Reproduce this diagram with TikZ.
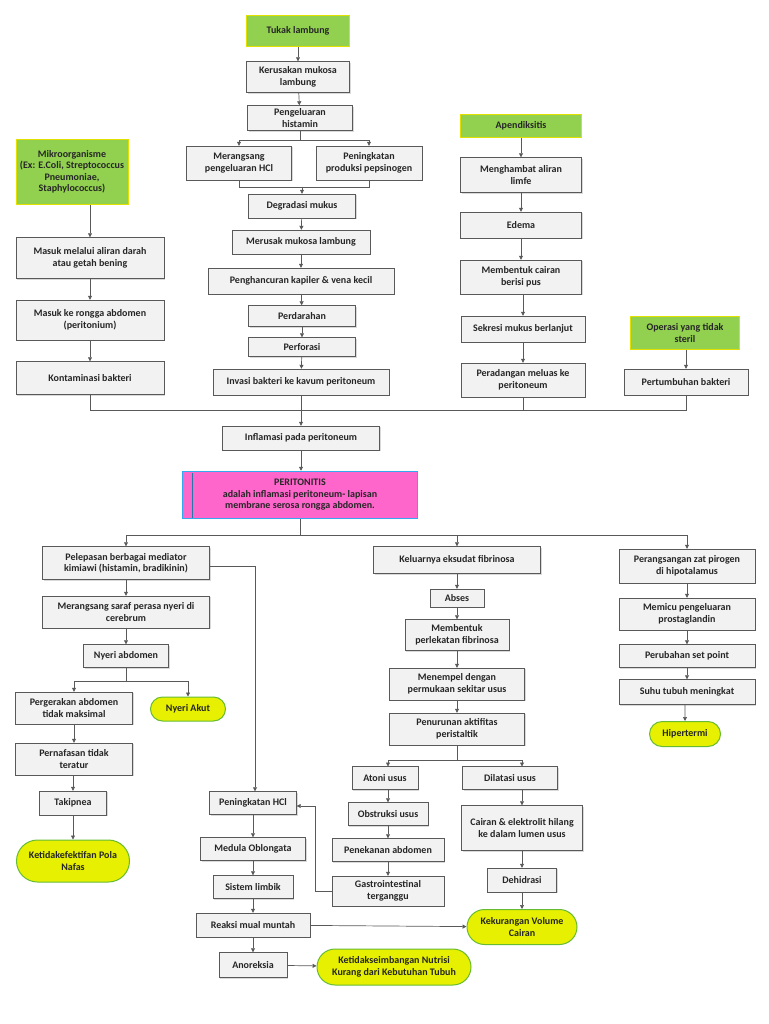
\documentclass[tikz,border=0pt]{standalone}
\usepackage{fontspec}
\setmainfont{Carlito}
\usetikzlibrary{arrows.meta,shadows,shapes.misc}
\definecolor{boxfill}{HTML}{F2F2F2}
\definecolor{boxline}{HTML}{595959}
\definecolor{grn}{HTML}{92D050}
\definecolor{grnb}{HTML}{E2E000}
\definecolor{ylw}{HTML}{E6F000}
\definecolor{ylwb}{HTML}{66BB33}
\definecolor{pnk}{HTML}{FF66CC}
\definecolor{blu}{HTML}{33AAEE}
\definecolor{txt}{HTML}{262626}
\tikzset{
 base/.style={align=center,inner sep=1pt,text=txt,font=\bfseries\fontsize{10}{11.5}\selectfont},
 box/.style={base,draw=boxline,fill=boxfill,drop shadow={shadow xshift=1.2pt,shadow yshift=-1.2pt,opacity=0.3}},
 gbox/.style={base,draw=grnb,line width=1pt,fill=grn},
 ybox/.style={base,draw=ylwb,line width=1pt,fill=ylw,rounded rectangle},
 ar/.style={-{Triangle[length=4pt,width=4pt]},draw=boxline,line width=0.7pt},
 ln/.style={draw=boxline,line width=0.7pt}
}
\newcommand{\bx}[7]{\node[#1,minimum width=#5pt,minimum height=#6pt] (#2) at (#3,#4) {#7};}
\begin{document}
\begin{tikzpicture}[x=1pt,y=-1pt]
\useasboundingbox (0,0) rectangle (768,1024);
% top column
\bx{gbox}{tukak}{298}{31}{103}{31}{Tukak lambung}
\bx{box}{keru}{298}{77}{103}{31}{Kerusakan mukosa\\lambung}
\bx{box}{peng}{300}{118}{105}{25}{Pengeluaran\\histamin}
\bx{box}{hcl}{239}{163}{105}{34}{Merangsang\\pengeluaran HCl}
\bx{box}{peps}{369}{163}{106}{34}{Peningkatan\\produksi pepsinogen}
\bx{box}{degr}{302}{206}{107}{24}{Degradasi mukus}
\bx{box}{meru}{301}{242}{138}{24}{Merusak mukosa lambung}
\bx{box}{kapi}{301}{281}{186}{26}{Penghancuran kapiler \& vena kecil}
\bx{box}{perd}{302}{316}{107}{21}{Perdarahan}
\bx{box}{perf}{302}{347}{107}{19}{Perforasi}
\bx{box}{inva}{301}{382}{176}{26}{Invasi bakteri ke kavum peritoneum}
% left column
\bx{gbox}{mikro}{72}{172}{112}{65}{Mikroorganisme\\(Ex: E.Coli, Streptococcus\\Pneumoniae,\\Staphylococcus)}
\bx{box}{masuk1}{90}{258}{148}{41}{Masuk melalui aliran darah\\atau getah bening}
\bx{box}{masuk2}{90}{320}{148}{40}{Masuk ke rongga abdomen\\(peritonium)}
\bx{box}{konta}{90}{378}{148}{33}{Kontaminasi bakteri}
% right column
\bx{gbox}{apen}{521}{126}{121}{23}{Apendiksitis}
\bx{box}{limfe}{521}{175}{121}{35}{Menghambat aliran\\limfe}
\bx{box}{edema}{521}{225}{121}{26}{Edema}
\bx{box}{pus}{521}{277}{121}{34}{Membentuk cairan\\berisi pus}
\bx{box}{sekr}{523}{329}{124}{26}{Sekresi mukus berlanjut}
\bx{box}{pera}{523}{380}{124}{34}{Peradangan meluas ke\\peritoneum}
\bx{gbox}{oper}{685}{333}{109}{33}{Operasi yang tidak\\steril}
\bx{box}{pert}{686}{382}{124}{26}{Pertumbuhan bakteri}
% center
\bx{box}{infl}{301}{438}{157}{24}{Inflamasi pada peritoneum}
\node[base,draw=blu,line width=1.5pt,fill=pnk,minimum width=235pt,minimum height=47pt] (peri) at (300,495) {PERITONITIS\\adalah inflamasi peritoneum- lapisan\\membrane serosa rongga abdomen.};
\draw[blu!70!black,line width=0.8pt] (192,472.5) -- (192,517.5);
% lower left
\bx{box}{pele}{126}{563}{167}{33}{Pelepasan berbagai mediator\\kimiawi (histamin, bradikinin)}
\bx{box}{mers}{126}{612}{167}{32}{Merangsang saraf perasa nyeri di\\cerebrum}
\bx{box}{nyab}{126}{656}{85}{23}{Nyeri abdomen}
\bx{box}{perg}{74}{708}{117}{32}{Pergerakan abdomen\\tidak maksimal}
\bx{ybox}{nyak}{188}{709}{77}{24}{Nyeri Akut}
\bx{box}{pern}{74}{759}{117}{32}{Pernafasan tidak\\teratur}
\bx{box}{taki}{73}{803}{67}{24}{Takipnea}
\bx{ybox}{ketpola}{73}{861}{115}{42}{Ketidakefektifan Pola\\Nafas}
\bx{box}{phcl}{253}{803}{87}{23}{Peningkatan HCl}
\bx{box}{medu}{253}{849}{105}{23}{Medula Oblongata}
\bx{box}{siste}{253}{887}{80}{23}{Sistem limbik}
\bx{box}{reak}{253}{925}{114}{24}{Reaksi mual muntah}
\bx{box}{anor}{253}{965}{68}{25}{Anoreksia}
\bx{ybox}{nutri}{394}{967}{156}{36}{Ketidakseimbangan Nutrisi\\Kurang dari Kebutuhan Tubuh}
\bx{ybox}{kvol}{522}{927}{112}{35}{Kekurangan Volume\\Cairan}
% lower middle
\bx{box}{kelu}{457}{560}{167}{27}{Keluarnya eksudat fibrinosa}
\bx{box}{abses}{457}{598}{54}{18}{Abses}
\bx{box}{perl}{457}{635}{104}{31}{Membentuk\\perlekatan fibrinosa}
\bx{box}{mene}{457}{684}{135}{32}{Menempel dengan\\permukaan sekitar usus}
\bx{box}{penu}{457}{729}{135}{32}{Penurunan aktifitas\\peristaltik}
\bx{box}{atoni}{385}{778}{66}{23}{Atoni usus}
\bx{box}{obst}{388}{814}{80}{23}{Obstruksi usus}
\bx{box}{pene}{388}{850}{112}{23}{Penekanan abdomen}
\bx{box}{gast}{388}{891}{112}{30}{Gastrointestinal\\terganggu}
\bx{box}{dila}{510}{778}{95}{23}{Dilatasi usus}
\bx{box}{cair}{522}{828}{121}{45}{Cairan \& elektrolit hilang\\ke dalam lumen usus}
\bx{box}{dehi}{522}{880}{69}{24}{Dehidrasi}
% lower right
\bx{box}{pir}{687}{566}{136}{34}{Perangsangan zat pirogen\\di hipotalamus}
\bx{box}{pros}{687}{614}{136}{32}{Memicu pengeluaran\\prostaglandin}
\bx{box}{setp}{687}{656}{136}{23}{Perubahan set point}
\bx{box}{suhu}{687}{692}{136}{25}{Suhu tubuh meningkat}
\bx{ybox}{hipe}{685}{734}{73}{25}{Hipertermi}
% connectors top
\draw[ar] (tukak) -- (keru);
\draw[ar] (keru) -- (peng);
\coordinate (s1) at (300,140);
\draw[ln] (peng) -- (s1);
\draw[ar] (s1) -| (hcl);
\draw[ar] (s1) -| (peps);
\coordinate (m1) at (302,187);
\draw[ln] (hcl) |- (m1);
\draw[ln] (peps) |- (m1);
\draw[ar] (m1) -- (degr);
\draw[ar] (degr) -- (meru);
\draw[ar] (meru) -- (kapi);
\draw[ar] (kapi) -- (perd);
\draw[ar] (perd) -- (perf);
\draw[ar] (perf) -- (inva);
\draw[ar] (mikro.south -| masuk1) -- (masuk1);
\draw[ar] (masuk1) -- (masuk2);
\draw[ar] (masuk2) -- (konta);
\draw[ar] (apen) -- (limfe);
\draw[ar] (limfe) -- (edema);
\draw[ar] (edema) -- (pus);
\draw[ar] (pus.south -| sekr) -- (sekr);
\draw[ar] (sekr) -- (pera);
\draw[ar] (oper.south -| pert) -- (pert);
\coordinate (j1) at (301,410);
\draw[ln] (konta.south) |- (j1);
\draw[ln] (pert.south) |- (j1);
\draw[ln] (pera.south) -- (pera.south |- j1);
\draw[ln] (inva) -- (j1);
\draw[ar] (j1) -- (infl);
\draw[ar] (infl) -- (peri.north -| infl);
\coordinate (j2) at (300,535);
\draw[ln] (peri) -- (j2);
\draw[ar] (j2) -| (pele);
\draw[ar] (j2) -| (kelu);
\draw[ar] (j2) -| (pir);
% lower left
\draw[ar] (pele) -- (mers);
\draw[ar] (mers) -- (nyab);
\coordinate (j3) at (126,681);
\draw[ln] (nyab) -- (j3);
\draw[ar] (j3) -| (perg);
\draw[ar] (j3) -| (nyak);
\draw[ar] (perg.south -| pern) -- (pern);
\draw[ar] (pern.south -| taki) -- (taki);
\draw[ar] (taki) -- (ketpola);
\coordinate (c1) at (255,566);
\draw[ar] (pele.east |- c1) -- (c1) -- (c1 |- phcl.north);
\draw[ar] (phcl) -- (medu);
\draw[ar] (medu) -- (siste);
\draw[ar] (siste) -- (reak);
\draw[ar] (reak) -- (anor);
\draw[ar] (reak) -- (kvol);
\draw[ar] (anor) -- (nutri);
\coordinate (c2) at (315,806);
\draw[ar] (gast.west) -| (c2) -- (phcl.east |- c2);
% lower middle
\draw[ar] (kelu) -- (abses);
\draw[ar] (abses) -- (perl);
\draw[ar] (perl) -- (mene);
\draw[ar] (mene) -- (penu);
\coordinate (j4) at (457,760);
\draw[ln] (penu) -- (j4);
\draw[ar] (j4) -| (388,766.5);
\draw[ar] (j4) -| (522,766.5);
\draw[ar] (388,789.5) -- (obst);
\draw[ar] (obst) -- (pene);
\draw[ar] (pene) -- (gast);
\draw[ar] (522,789.5) -- (cair);
\draw[ar] (cair) -- (dehi);
\draw[ar] (dehi) -- (kvol);
% lower right
\draw[ar] (pir) -- (pros);
\draw[ar] (pros) -- (setp);
\draw[ar] (setp) -- (suhu);
\draw[ar] (suhu.south -| hipe) -- (hipe);
\end{tikzpicture}
\end{document}
